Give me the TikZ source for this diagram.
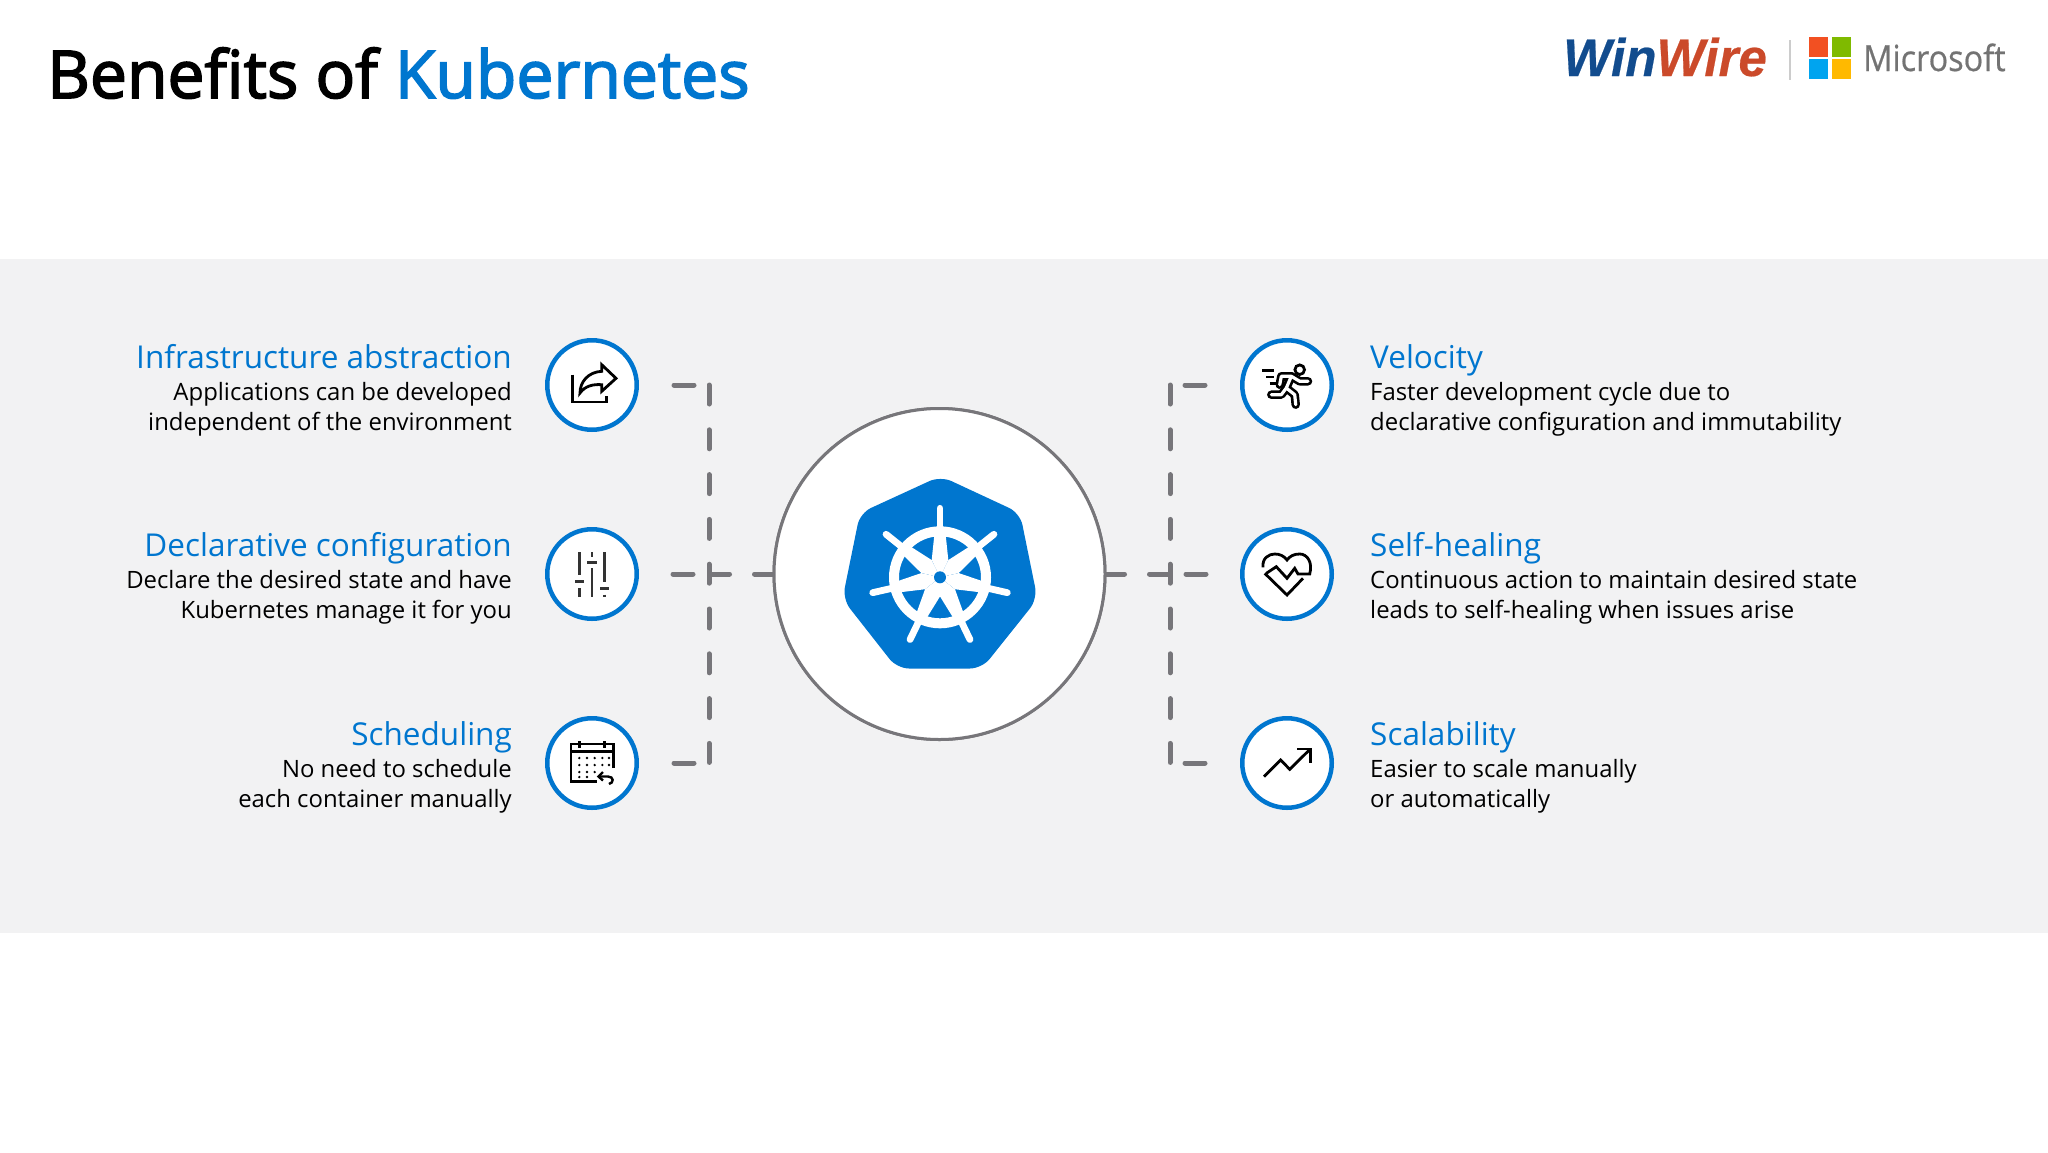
\documentclass[tikz,border=0pt]{standalone}
\usepackage{fontspec}
\setmainfont{Open Sans}
\newfontfamily\titlefont[FakeBold=2.5]{Open Sans}
\newfontfamily\brandfont[FakeBold=0.5,FakeStretch=0.9]{Open Sans}
\newfontfamily\logofont[FakeBold=0.4,FakeStretch=0.965]{Liberation Sans}
\definecolor{kubeblue}{HTML}{0076CF}
\definecolor{bandgray}{HTML}{F2F2F3}
\definecolor{linegray}{HTML}{77767A}
\definecolor{wirered}{HTML}{CB4A2A}
\definecolor{winblue}{HTML}{124C8E}
\definecolor{msred}{HTML}{F25022}
\definecolor{msgreen}{HTML}{7FBA00}
\definecolor{msblue}{HTML}{00A4EF}
\definecolor{msyellow}{HTML}{FFB900}
\begin{document}
\begin{tikzpicture}[x=1pt, y=-1pt,
    iconring/.style={circle, draw=kubeblue, line width=4.5pt, fill=white, minimum size=89.5pt, inner sep=0pt},
    hubring/.style={circle, draw=linegray, line width=3pt, fill=white, minimum size=331pt, inner sep=0pt},
    headtext/.style={kubeblue, font=\fontsize{31.5}{31.5}\selectfont, inner sep=0pt},
    bodytext/.style={black, font=\fontsize{23.9}{30}\selectfont, inner sep=0pt},
    dashline/.style={linegray, line width=5pt, line cap=round},
    glyph/.style={black, line width=2.8pt}]
    \useasboundingbox (0,0) rectangle (2048,1152);
    \fill [white] (0,0) rectangle (2048,1152);
    \fill [bandgray] (0,259) rectangle (2048,933);
    \path
        (47,98) node(title)[anchor=base west, inner sep=0pt, font=\fontsize{66}{66}\titlefont]{Benefits of \textcolor{kubeblue}{Kubernetes}}
        (1563,76) node(winwire)[anchor=base west, inner sep=0pt, font=\fontsize{53}{53}\logofont\bfseries\itshape]{\textcolor{winblue}{Win}\textcolor{wirered}{Wire}}
        (1863,71) node(microsoft)[anchor=base west, inner sep=0pt, text=black!55, font=\fontsize{36}{36}\brandfont]{Microsoft};
    \draw [black!20, line width=1.5pt] (1790,40) -- (1790,80);
    \fill [msred] (1809.3,37.3) rectangle (1828.3,56.7);
    \fill [msgreen] (1831.7,37.3) rectangle (1850.7,56.7);
    \fill [msblue] (1809.3,59.3) rectangle (1828.3,78.7);
    \fill [msyellow] (1831.7,59.3) rectangle (1850.7,78.7);
    % hub and icons
    \path
        (939.5,574) node(hub)[hubring]{}
        (592,385) node(infra)[iconring]{}
        (592,574) node(declare)[iconring]{}
        (592,763) node(sched)[iconring]{}
        (1287,385) node(velocity)[iconring]{}
        (1287,574) node(healing)[iconring]{}
        (1287,763) node(scale)[iconring]{};
    % dashed connectors
    \coordinate (lefttop) at (709,385);
    \coordinate (leftbot) at (709,763);
    \coordinate (righttop) at (1170,385);
    \coordinate (rightbot) at (1170,763);
    \draw [dashline, dash pattern=on 19pt off 25.8pt] (lefttop) -- (leftbot);
    \draw [dashline, dash pattern=on 19pt off 25.8pt] (righttop) -- (rightbot);
    \draw [dashline, dash pattern=on 20pt off 100pt, shorten <=35pt] (infra.east) -- (lefttop);
    \draw [dashline, dash pattern=on 20pt off 100pt, shorten <=35pt] (sched.east) -- (leftbot);
    \draw [dashline, dash pattern=on 20pt off 100pt, shorten <=35pt] (velocity.west) -- (righttop);
    \draw [dashline, dash pattern=on 20pt off 100pt, shorten <=35pt] (scale.west) -- (rightbot);
    \draw [dashline, dash pattern=on 18pt off 25pt on 20pt off 16.5pt on 20pt off 100pt] (hub.west) -- (declare.east);
    \draw [dashline, dash pattern=on 18pt off 25pt on 20pt off 16.5pt on 20pt off 100pt] (hub.east) -- (healing.west);
    \path (939.5,574) node(hubtop)[hubring]{};
    % kubernetes mark
    \fill [kubeblue, rounded corners=12pt] (940.5,476) -- (1020,513) -- (1037.5,599) -- (982,668.5) -- (897,668.5) -- (842.5,599) -- (860,513) -- cycle;
    \coordinate (wheel) at (940,577.3);
    \draw [white, line width=10pt] (wheel) circle [radius=46];
    \foreach \ang in {90,141.43,192.86,244.29,295.71,347.14,398.57} {
        \begin{scope}[shift={(wheel)}, rotate=\ang]
            \fill [white] (0,0) -- (17.3,-8.3) -- (44,-5.5) -- (44,5.5) -- (17.3,8.3) -- cycle;
            \draw [white, line width=6.8pt, line cap=round] (48,0) -- (69,0);
        \end{scope}
    }
    \fill [kubeblue] (wheel) circle [radius=6];
    % texts
    \path
        (512,368) node(infrahead)[headtext, anchor=base east]{Infrastructure abstraction}
        (512,400) node(infrabody1)[bodytext, anchor=base east]{Applications can be developed}
        (512,430) node(infrabody2)[bodytext, anchor=base east]{independent of the environment}
        (512,556) node(declhead)[headtext, anchor=base east]{Declarative configuration}
        (512,588) node(declbody1)[bodytext, anchor=base east]{Declare the desired state and have}
        (512,618) node(declbody2)[bodytext, anchor=base east]{Kubernetes manage it for you}
        (512,745) node(schedhead)[headtext, anchor=base east]{Scheduling}
        (512,777) node(schedbody1)[bodytext, anchor=base east]{No need to schedule}
        (512,807) node(schedbody2)[bodytext, anchor=base east]{each container manually}
        (1370,368) node(velohead)[headtext, anchor=base west]{Velocity}
        (1370,400) node(velobody1)[bodytext, anchor=base west]{Faster development cycle due to}
        (1370,430) node(velobody2)[bodytext, anchor=base west]{declarative configuration and immutability}
        (1370,556) node(healhead)[headtext, anchor=base west]{Self-healing}
        (1370,588) node(healbody1)[bodytext, anchor=base west]{Continuous action to maintain desired state}
        (1370,618) node(healbody2)[bodytext, anchor=base west]{leads to self-healing when issues arise}
        (1370,745) node(scalehead)[headtext, anchor=base west]{Scalability}
        (1370,777) node(scalebody1)[bodytext, anchor=base west]{Easier to scale manually}
        (1370,807) node(scalebody2)[bodytext, anchor=base west]{or automatically};
    % share icon
    \begin{scope}[shift={(infra.center)}]
        \draw [glyph] (-19.7,-10.3) -- (-19.7,17) -- (14.3,17) -- (14.3,10.7);
        \draw [glyph, line join=miter] (24,-6.7) -- (9.7,-20.3) -- (9.7,-13.7) .. controls (-4,-13) and (-12,-3) .. (-12,8) .. controls (-7,1) and (1,-1) .. (9.7,-0.3) -- (9.7,6.3) -- cycle;
    \end{scope}
    % sliders icon
    \begin{scope}[shift={(declare.center)}, glyph/.append style={black!80, line width=2.6pt}]
        \draw [glyph] (-12.7,-22) -- (-12.7,1);
        \draw [glyph] (-17,7.7) -- (-8,7.7);
        \draw [glyph] (-12.7,14.3) -- (-12.7,22.7);
        \draw [glyph] (0,-22) -- (0,-17);
        \draw [glyph] (-4.7,-11.7) -- (4.7,-11.7);
        \draw [glyph] (0,-5.7) -- (0,22.7);
        \draw [glyph] (12.7,-22) -- (12.7,8.3);
        \draw [glyph] (8,14.3) -- (17.3,14.3);
        \draw [glyph] (12.7,20.5) -- (12.7,22.7);
    \end{scope}
    % calendar icon
    \begin{scope}[shift={(sched.center)}]
        \draw [glyph] (21.7,5) -- (21.7,-19) -- (-21,-19) -- (-21,18.7) -- (5,18.7);
        \draw [glyph] (-21,-11.3) -- (21.7,-11.3);
        \draw [glyph] (-12.7,-22) -- (-12.7,-15);
        \draw [glyph] (12.7,-22) -- (12.7,-15);
        \foreach \dx/\dy in {-12.7/-5,-5/-5,2.7/-5,10.4/-5,17/-5,-12.7/2,-5/2,2.7/2,10.4/2,17/2,-12.7/9,-5/9,2.7/9,-12.7/14,-5/14}
            \fill [black] (\dx,\dy) circle [radius=1.3];
        \draw [glyph, line width=2.4pt] (11,9) -- (6.5,13.5) -- (11,17.5);
        \draw [glyph, line width=2.4pt] (6.5,13.5) -- (16,13.5) .. controls (22,13.5) and (22,20) .. (17,21);
    \end{scope}
    % runner icon
    \begin{scope}[shift={(velocity.center)}]
        \draw [glyph] (12.7,-15.3) circle [radius=4.8];
        \draw [glyph] (-24.7,-14.7) -- (-13,-14.7);
        \draw [glyph] (-20.7,-8) -- (-13,-8);
        \draw [glyph] (-17.3,-1.3) -- (-11.3,-1.3);
        \draw [black, line width=8.5pt, line cap=round, line join=round] (-7.3,-0.3) -- (-5.7,-8.7) -- (4.3,-8.7) -- (12.7,-3.7) -- (21,-3.7);
        \draw [black, line width=8.5pt, line cap=round, line join=round] (4.3,-8.7) -- (-0.7,3) -- (-5.7,9.7) -- (-15.7,9.7);
        \draw [black, line width=8.5pt, line cap=round, line join=round] (-0.7,3) -- (7.7,9.7) -- (8.7,19.7);
        \draw [white, line width=3.2pt, line cap=round, line join=round] (-7.3,-0.3) -- (-5.7,-8.7) -- (4.3,-8.7) -- (12.7,-3.7) -- (21,-3.7);
        \draw [white, line width=3.2pt, line cap=round, line join=round] (4.3,-8.7) -- (-0.7,3) -- (-5.7,9.7) -- (-15.7,9.7);
        \draw [white, line width=3.2pt, line cap=round, line join=round] (-0.7,3) -- (7.7,9.7) -- (8.7,19.7);
    \end{scope}
    % heart icon
    \begin{scope}[shift={(healing.center)}]
        \draw [glyph] (-24,-6.7) .. controls (-25,-16) and (-18,-20) .. (-12.3,-20) .. controls (-7,-20) and (-3,-18) .. (0,-14) .. controls (3,-18) and (7,-20) .. (12.7,-20) .. controls (20,-20) and (26,-12) .. (22.7,0) -- (11,0) -- (7.7,-5.7) -- (0,4.3) -- (-10.7,-7.3) -- (-20.7,-0.7);
        \draw [glyph] (-22.3,-0.7) -- (0,21) -- (16,4.3);
    \end{scope}
    % trend icon
    \begin{scope}[shift={(scale.center)}]
        \draw [glyph] (-23,13.7) -- (-6.3,-3) -- (2.7,6.3) -- (23.3,-14);
        \draw [glyph] (10,-14) -- (23.3,-14) -- (23.3,-0.3);
    \end{scope}
\end{tikzpicture}
\end{document}
